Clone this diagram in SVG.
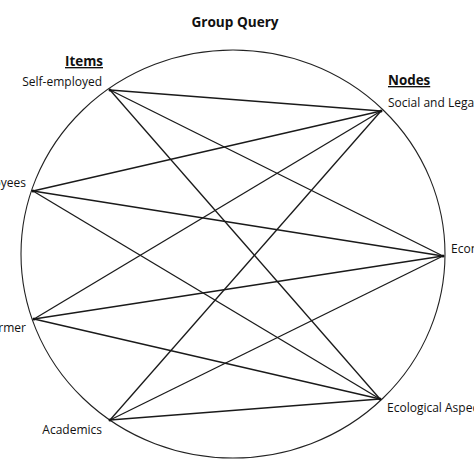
<svg xmlns="http://www.w3.org/2000/svg" width="474" height="474" viewBox="0 0 474 474">
<style>
text{font-family:"Open Sans","Liberation Sans",sans-serif;fill:#111}
.lbl{font-size:12px}
.hdr{font-size:13.4px;font-weight:bold;text-decoration:underline}
.title{font-size:13.6px;font-weight:bold}
.edge{stroke:#1a1a1a;stroke-width:1.3;fill:none}
</style>
<rect width="474" height="474" fill="#ffffff"/>
<text class="title" x="235" y="27" text-anchor="middle">Group Query</text>
<ellipse cx="233" cy="254" rx="212" ry="204" fill="none" stroke="#222" stroke-width="1.1"/>
<g id="connectors">
<line class="edge" x1="110" y1="90" x2="381" y2="111"/>
<line class="edge" x1="110" y1="90" x2="443" y2="256"/>
<line class="edge" x1="110" y1="90" x2="380" y2="399"/>
<line class="edge" x1="33" y1="191" x2="381" y2="111"/>
<line class="edge" x1="33" y1="191" x2="443" y2="256"/>
<line class="edge" x1="33" y1="191" x2="380" y2="399"/>
<line class="edge" x1="34" y1="319" x2="381" y2="111"/>
<line class="edge" x1="34" y1="319" x2="443" y2="256"/>
<line class="edge" x1="34" y1="319" x2="380" y2="399"/>
<line class="edge" x1="110" y1="420" x2="381" y2="111"/>
<line class="edge" x1="110" y1="420" x2="443" y2="256"/>
<line class="edge" x1="110" y1="420" x2="380" y2="399"/>
</g>
<g id="items-header"><text class="hdr" x="103" y="66" text-anchor="end">Items</text></g>
<g id="nodes-header"><text class="hdr" x="388" y="85">Nodes</text></g>
<g id="self-employed"><circle cx="110" cy="90" r="1.5" fill="#111"/><text class="lbl" x="102" y="86" text-anchor="end">Self-employed</text></g>
<g id="employees"><circle cx="33" cy="191" r="1.5" fill="#111"/><text class="lbl" x="26" y="187" text-anchor="end">Employees</text></g>
<g id="farmer"><circle cx="34" cy="319" r="1.5" fill="#111"/><text class="lbl" x="26" y="332" text-anchor="end">Farmer</text></g>
<g id="academics"><circle cx="110" cy="420" r="1.5" fill="#111"/><text class="lbl" x="102" y="434" text-anchor="end">Academics</text></g>
<g id="social-legal"><circle cx="381" cy="111" r="1.5" fill="#111"/><text class="lbl" x="388" y="107">Social and Legal</text></g>
<g id="economic"><circle cx="443" cy="256" r="1.5" fill="#111"/><text class="lbl" x="451" y="253">Economic</text></g>
<g id="ecological"><circle cx="380" cy="399" r="1.5" fill="#111"/><text class="lbl" x="387" y="412">Ecological Aspects</text></g>
</svg>
